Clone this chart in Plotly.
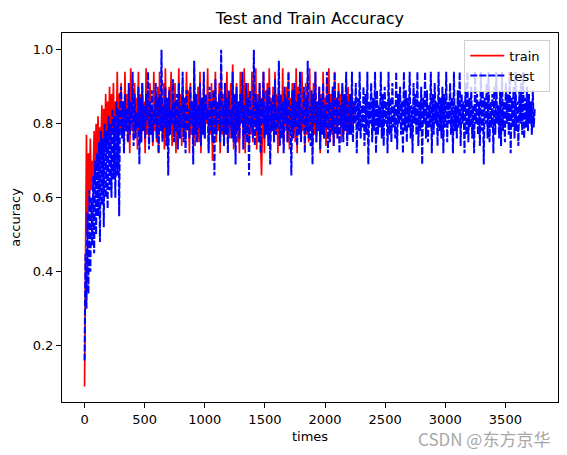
import plotly.graph_objects as go

step = 8

train_acc = [0.09, 0.55, 0.77, 0.5, 0.72, 0.58, 0.76, 0.62, 0.7, 0.66, 0.78, 0.64, 0.8, 0.68, 0.82, 0.7, 0.79, 0.72,
             0.85, 0.7, 0.84, 0.74, 0.88, 0.72, 0.86, 0.76, 0.9, 0.74, 0.88, 0.77, 0.91, 0.73, 0.86, 0.76, 0.94, 0.75, 0.88, 0.78,
             0.91, 0.77, 0.86, 0.74, 0.94, 0.79, 0.88, 0.75, 0.9, 0.72, 0.95, 0.78, 0.85, 0.76, 0.91, 0.8, 0.87, 0.73, 0.94, 0.77,
             0.88, 0.75, 0.91, 0.79, 0.86, 0.72, 0.95, 0.77, 0.89, 0.76, 0.91, 0.8, 0.85, 0.74, 0.94, 0.78, 0.88, 0.75, 0.9, 0.72,
             0.94, 0.79, 0.87, 0.76, 0.91, 0.73, 0.95, 0.78, 0.86, 0.75, 0.9, 0.8, 0.94, 0.74, 0.88, 0.77, 0.91, 0.72, 0.86, 0.79,
             0.95, 0.76, 0.88, 0.74, 0.91, 0.78, 0.87, 0.75, 0.94, 0.8, 0.89, 0.72, 0.91, 0.77, 0.86, 0.76, 0.95, 0.74, 0.88, 0.79,
             0.9, 0.75, 0.94, 0.72, 0.87, 0.78, 0.91, 0.76, 0.86, 0.8, 0.95, 0.73, 0.88, 0.77, 0.91, 0.7, 0.89, 0.79, 0.94, 0.75,
             0.86, 0.78, 0.91, 0.72, 0.95, 0.77, 0.88, 0.75, 0.9, 0.8, 0.94, 0.74, 0.87, 0.76, 0.91, 0.79, 0.96, 0.73, 0.88, 0.77,
             0.91, 0.75, 0.86, 0.72, 0.94, 0.8, 0.89, 0.76, 0.95, 0.72, 0.88, 0.78, 0.91, 0.74, 0.87, 0.77, 0.94, 0.75, 0.9, 0.79,
             0.95, 0.73, 0.88, 0.77, 0.91, 0.75, 0.66, 0.8, 0.94, 0.72, 0.89, 0.78, 0.91, 0.76, 0.95, 0.74, 0.87, 0.79, 0.9, 0.75,
             0.94, 0.77, 0.88, 0.72, 0.91, 0.8, 0.86, 0.76, 0.95, 0.74, 0.88, 0.78, 0.9, 0.75, 0.94, 0.73, 0.87, 0.79, 0.91, 0.77,
             0.88, 0.75, 0.95, 0.72, 0.9, 0.8, 0.86, 0.76, 0.94, 0.78, 0.89, 0.74, 0.91, 0.77, 0.87, 0.75, 0.95, 0.79, 0.88, 0.73,
             0.91, 0.77, 0.94, 0.75, 0.86, 0.8, 0.9, 0.72, 0.88, 0.78, 0.94, 0.76, 0.87, 0.74, 0.91, 0.79, 0.95, 0.75, 0.88, 0.77,
             0.9, 0.74, 0.94, 0.78, 0.87, 0.76, 0.91, 0.8, 0.88, 0.75, 0.9, 0.77, 0.86, 0.79, 0.88, 0.76, 0.9, 0.78, 0.87, 0.8,
             0.89, 0.78, 0.86]

test_acc = [0.16, 0.45, 0.3, 0.56, 0.34, 0.62, 0.4, 0.6, 0.47, 0.66, 0.45, 0.7, 0.5, 0.72, 0.55, 0.75, 0.48, 0.78,
            0.58, 0.76, 0.52, 0.8, 0.6, 0.78, 0.57, 0.82, 0.62, 0.8, 0.6, 0.84, 0.65, 0.82, 0.6, 0.86, 0.66, 0.84, 0.55, 0.88,
            0.9, 0.76, 0.86, 0.72, 0.88, 0.78, 0.84, 0.75, 0.91, 0.77, 0.86, 0.8, 0.94, 0.74, 0.88, 0.76, 0.83, 0.79, 0.9, 0.69,
            0.87, 0.75, 0.91, 0.78, 0.85, 0.76, 0.88, 0.81, 0.94, 0.73, 0.86, 0.77, 0.89, 0.75, 0.84, 0.8, 0.91, 0.76, 0.87, 0.72,
            0.88, 0.78, 1.0, 0.75, 0.85, 0.79, 0.9, 0.74, 0.87, 0.66, 0.89, 0.77, 0.84, 0.8, 0.92, 0.75, 0.86, 0.78, 0.88, 0.73,
            0.91, 0.76, 0.85, 0.79, 0.94, 0.75, 0.87, 0.72, 0.89, 0.78, 0.84, 0.76, 0.9, 0.8, 0.86, 0.69, 0.97, 0.77, 0.88, 0.75,
            0.85, 0.79, 0.91, 0.74, 0.87, 0.77, 0.94, 0.76, 0.88, 0.81, 0.84, 0.72, 0.9, 0.78, 0.86, 0.75, 0.89, 0.66, 0.92, 0.77,
            0.86, 0.8, 0.88, 0.75, 1.0, 0.78, 0.85, 0.74, 0.91, 0.77, 0.87, 0.72, 0.89, 0.79, 0.84, 0.76, 0.94, 0.75, 0.88, 0.69,
            0.9, 0.78, 0.86, 0.76, 0.88, 0.8, 0.94, 0.73, 0.85, 0.77, 0.91, 0.75, 0.87, 0.66, 0.89, 0.79, 0.84, 0.76, 1.0, 0.74,
            0.88, 0.78, 0.86, 0.75, 0.91, 0.72, 0.87, 0.8, 0.94, 0.76, 0.85, 0.77, 0.89, 0.74, 0.9, 0.69, 0.86, 0.78, 0.88, 0.75,
            0.92, 0.77, 0.84, 0.79, 0.97, 0.74, 0.88, 0.76, 0.86, 0.72, 0.9, 0.8, 0.87, 0.75, 0.94, 0.78, 0.85, 0.66, 0.89, 0.76,
            0.91, 0.79, 0.86, 0.74, 0.88, 0.77, 0.94, 0.75, 0.84, 0.8, 0.9, 0.72, 0.87, 0.78, 0.97, 0.76, 0.85, 0.74, 0.89, 0.69,
            0.88, 0.8, 0.94, 0.75, 0.86, 0.78, 0.9, 0.73, 0.87, 0.77, 0.91, 0.76, 0.85, 0.79, 0.94, 0.72, 0.88, 0.75, 0.86, 0.78,
            0.9, 0.74, 0.94, 0.77, 0.87, 0.76, 0.89, 0.72, 0.85, 0.79, 0.91, 0.75, 0.88, 0.78, 0.94, 0.74, 0.86, 0.77,
            0.88, 0.77, 0.94, 0.75, 0.86, 0.8, 0.91, 0.72, 0.87, 0.78, 0.94, 0.76, 0.85, 0.79, 0.9, 0.74, 0.88, 0.77, 0.94, 0.69,
            0.86, 0.8, 0.91, 0.75, 0.87, 0.78, 0.94, 0.72, 0.89, 0.77, 0.85, 0.79, 0.94, 0.76, 0.88, 0.74, 0.9, 0.8, 0.86, 0.72,
            0.94, 0.77, 0.87, 0.75, 0.91, 0.79, 0.85, 0.76, 0.94, 0.73, 0.88, 0.8, 0.9, 0.77, 0.86, 0.72, 0.94, 0.78, 0.89, 0.75,
            0.87, 0.79, 0.94, 0.76, 0.85, 0.72, 0.91, 0.8, 0.88, 0.77, 0.94, 0.74, 0.86, 0.78, 0.9, 0.69, 0.87, 0.8, 0.94, 0.76,
            0.89, 0.75, 0.85, 0.79, 0.94, 0.72, 0.88, 0.77, 0.91, 0.8, 0.86, 0.74, 0.94, 0.78, 0.87, 0.76, 0.9, 0.72, 0.88, 0.79,
            0.94, 0.75, 0.86, 0.8, 0.91, 0.77, 0.87, 0.72, 0.94, 0.78, 0.85, 0.76, 0.89, 0.79, 0.94, 0.74, 0.88, 0.8, 0.86, 0.72,
            0.91, 0.77, 0.94, 0.75, 0.87, 0.79, 0.9, 0.76, 0.85, 0.72, 0.94, 0.8, 0.88, 0.77, 0.86, 0.74, 0.94, 0.78, 0.89, 0.69,
            0.87, 0.8, 0.91, 0.76, 0.94, 0.75, 0.86, 0.79, 0.88, 0.72, 0.9, 0.77, 0.94, 0.8, 0.85, 0.76, 0.89, 0.74, 0.94, 0.78,
            0.86, 0.75, 0.91, 0.8, 0.88, 0.77, 0.94, 0.72, 0.87, 0.79, 0.9, 0.76, 0.94, 0.78, 0.86, 0.74, 0.89, 0.8, 0.91, 0.77,
            0.94, 0.76, 0.87, 0.79, 0.9, 0.78, 0.88, 0.8, 0.86, 0.77, 0.89, 0.79, 0.84]

train_x = [i * step for i in range(len(train_acc))]
test_x = [i * step for i in range(len(test_acc))]

fig = go.Figure()
fig.add_trace(go.Scatter(x=train_x, y=train_acc, mode='lines', name='train\u00a0',
                         line=dict(color='red', width=1.7)))
fig.add_trace(go.Scatter(x=test_x, y=test_acc, mode='lines', name='test\u00a0',
                         line=dict(color='blue', width=2, dash='7px,2px')))

axis_style = dict(showgrid=False, zeroline=False, showline=True, linecolor='black', linewidth=1,
                  mirror=True, ticks='outside', ticklen=5, tickcolor='black', automargin=False,
                  tickfont=dict(size=13, color='black'))

# the page body adds 8px around the figure, so the figure is 8px smaller
fig.update_layout(
    width=559, height=447,
    margin=dict(l=54, r=9, t=25, b=53),
    paper_bgcolor='white', plot_bgcolor='white',
    font=dict(family='DejaVu Sans', color='black'),
    title=dict(text='Test and Train Accuracy', x=0.54, xanchor='center', y=0.9765, yanchor='middle',
               font=dict(size=16)),
    xaxis=dict(axis_style, range=[-187.5, 3937.5], tickvals=[0, 500, 1000, 1500, 2000, 2500, 3000, 3500],
               title=dict(text='times', font=dict(size=13), standoff=6)),
    yaxis=dict(axis_style, range=[0.048, 1.045], tickvals=[0.2, 0.4, 0.6, 0.8, 1.0], tickformat='.1f',
               title=dict(text='accuracy', font=dict(size=13), standoff=9)),
    legend=dict(x=0.9845, xanchor='right', y=0.982, yanchor='top', bgcolor='rgba(255,255,255,0.8)',
                bordercolor='#d0d0d0', borderwidth=1, font=dict(size=13), itemwidth=34,
                tracegroupgap=2),
    showlegend=True,
)

# CSDN watermark at the bottom right
fig.add_annotation(text='CSDN @东方京华', xref='paper', yref='paper', x=0.9885, y=-0.099,
                   xanchor='right', yanchor='middle', showarrow=False,
                   font=dict(family='Noto Sans CJK SC', size=17, color='#a8a8a8'))

fig.write_html('out.html')
